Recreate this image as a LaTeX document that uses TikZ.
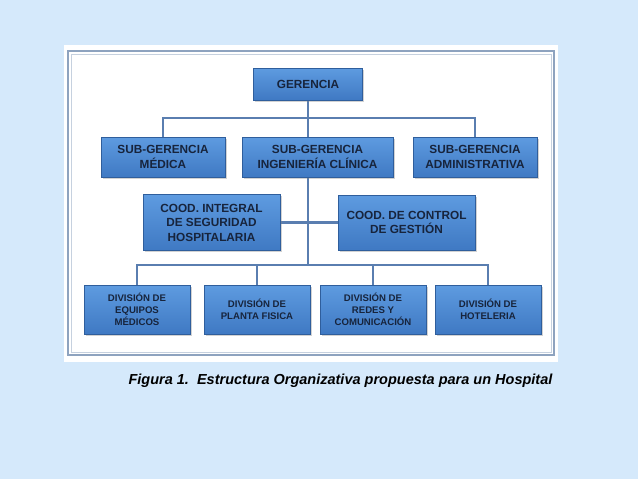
\documentclass[tikz,border=0pt]{standalone}
\usepackage{fontspec}
\setmainfont{Liberation Sans}
\usetikzlibrary{shadows,backgrounds}
\definecolor{bgblue}{HTML}{D5E9FB}
\definecolor{boxtop}{HTML}{5E9BE0}
\definecolor{boxbot}{HTML}{3F79C3}
\definecolor{boxline}{HTML}{2F5E9C}
\definecolor{textnavy}{HTML}{17243C}
\definecolor{linkblue}{HTML}{5A7EB0}
\definecolor{framegray}{HTML}{8EA3BF}
\begin{document}
\begin{tikzpicture}[x=1pt, y=-1pt,
    unit/.style={rectangle, draw=boxline, line width=0.6pt, top color=boxtop, bottom color=boxbot,
      drop shadow={shadow xshift=1.5pt, shadow yshift=-1.5pt, opacity=0.35},
      text=textnavy, align=center, inner sep=0pt,
      font=\fontsize{11.8}{14.5}\selectfont\bfseries},
    division/.style={unit, font=\fontsize{9.6}{12}\selectfont\bfseries},
    link/.style={draw=linkblue, line width=2.8pt}]
  \useasboundingbox (0,0) rectangle (638,479);

  \begin{scope}
    \node [unit, minimum width=109pt, minimum height=32pt] (ger) at (308,84) {GERENCIA};
    \node [unit, minimum width=124pt, minimum height=40pt] (submed) at (163,157) {SUB-GERENCIA\\M\'EDICA};
    \node [unit, minimum width=151pt, minimum height=40pt] (subing) at (317.5,157) {SUB-GERENCIA\\INGENIER\'IA CL\'INICA};
    \node [unit, minimum width=124pt, minimum height=40pt] (subadm) at (475,157) {SUB-GERENCIA\\ADMINISTRATIVA};
    \node [unit, minimum width=137pt, minimum height=56pt] (coodint) at (211.5,222.5) {COOD. INTEGRAL\\DE SEGURIDAD\\HOSPITALARIA};
    \node [unit, minimum width=137pt, minimum height=55pt] (coodctl) at (406.5,222.5) {COOD. DE CONTROL\\DE GESTI\'ON};
    \node [division, minimum width=106pt, minimum height=49pt] (diveq) at (137,309.5) {DIVISI\'ON DE\\EQUIPOS\\M\'EDICOS};
    \node [division, minimum width=106pt, minimum height=49pt] (divpl) at (257,309.5) {DIVISI\'ON DE\\PLANTA FISICA};
    \node [division, minimum width=106pt, minimum height=49pt] (divre) at (373,309.5) {DIVISI\'ON DE\\REDES Y\\COMUNICACI\'ON};
    \node [division, minimum width=106pt, minimum height=49pt] (divho) at (488,309.5) {DIVISI\'ON DE\\HOTELERIA};
  \end{scope}

  \begin{scope}[on background layer]
    \fill[bgblue] (0,0) rectangle (638,479);
    \fill[white] (64,45) rectangle (558,362);
    \draw[framegray, line width=2pt] (68,51) rectangle (554,355);
    \draw[framegray!50, line width=0.8pt] (71,54) rectangle (551,352);
    \coordinate (topbus) at (308,118);
    \coordinate (lowbus) at (308,265);
    \path[link] (submed.north) |- (topbus) -| (subadm.north);
    \path[link] (ger.south) -- (topbus);
    \path[link] (topbus) -- (subing.north -| topbus);
    \path[link] (subing.south -| topbus) -- (lowbus);
    \path[link] (coodint.east) -- (coodctl.west);
    \path[link] (diveq.north) |- (lowbus) -| (divho.north);
    \path[link] (divpl.north) -- (divpl.north |- lowbus);
    \path[link] (divre.north) -- (divre.north |- lowbus);
  \end{scope}

  \node [font=\fontsize{14.5}{17}\selectfont\bfseries\itshape] (caption) at (340.5,381) {Figura 1.\ \ Estructura Organizativa propuesta para un Hospital};
\end{tikzpicture}
\end{document}
